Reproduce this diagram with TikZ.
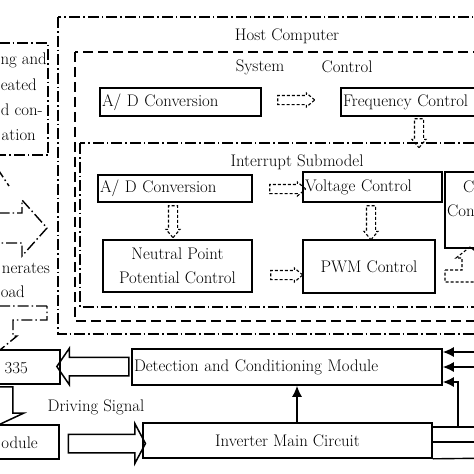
\documentclass[tikz,border=0pt]{standalone}
\usetikzlibrary{shapes.arrows,arrows.meta,calc}
\begin{document}
\begin{tikzpicture}[x=1pt,y=-1pt,
  every node/.style={font=\fontsize{16.8pt}{24pt}\selectfont, inner sep=0pt},
  box/.style={draw, line width=1.6pt, rectangle, inner xsep=2pt},
  dashdot/.style={line width=1.4pt, dash pattern=on 11pt off 3pt on 1.5pt off 3pt},
  dashbox/.style={line width=1.6pt, dash pattern=on 10pt off 5pt},
  smalldash/.style={line width=1.1pt, dash pattern=on 3pt off 2pt},
  harrow/.style={single arrow, draw, smalldash, inner sep=4pt, minimum width=13pt,
    single arrow head extend=2.5pt, single arrow tip angle=80, minimum height=#1},
  bigarrow/.style={single arrow, draw, line width=1.5pt, minimum height=#1},
  conn/.style={line width=1.4pt, -{Latex[length=11pt,width=10pt]}},
  wire/.style={line width=1.4pt}
]
\useasboundingbox (0,0) rectangle (474,474);
\clip (0,0) rectangle (474,474);

% containers
\draw[dashdot] (58,17) rectangle (640,334);
\draw[dashbox] (75,52) rectangle (640,321);
\draw[dashdot] (80,143) rectangle (640,307);

\node (hostlbl) at (287,36) {Host Computer};
\node (syslbl) at (260,67) {System};
\node (ctllbl) at (347,67) {Control};
\node (intlbl) at (297,162) {Interrupt Submodel};

% system control boxes
\node[box, minimum width=161pt, minimum height=28pt, text width=157pt, align=left] (ad1) at (180.5,102) {A/ D Conversion};
\node[box, minimum width=279pt, minimum height=28pt, text width=275pt, align=left] (freq) at (480.5,102) {Frequency Control};

% interrupt boxes
\node[box, minimum width=154pt, minimum height=27pt, text width=150pt, align=left] (ad2) at (175,188.5) {A/ D Conversion};
\node[box, minimum width=149pt, minimum height=52pt, align=center] (neutral) at (177.5,266) {Neutral Point\\Potential Control};
\node[box, minimum width=139pt, minimum height=30pt, text width=135pt, align=left] (volt) at (372.5,187) {Voltage Control};
\node[box, minimum width=132pt, minimum height=53pt] (pwm) at (369,266.5) {PWM Control};
\node[box, minimum width=155pt, minimum height=76pt] (cur) at (522.5,210) {};
\node[anchor=west] (curtxt1) at (463,186.5) {C};
\node[anchor=west] (curtxt2) at (447,210.5) {Con};

% dashed hollow arrows
\node[harrow=37pt] (a1) at (293.5,100) {};
\node[harrow=29pt, shape border rotate=270] (a2) at (419,130.5) {};
\node[harrow=32pt, shape border rotate=270] (a3) at (173,219) {};
\node[harrow=36pt] (a4) at (285,189) {};
\node[harrow=34pt, shape border rotate=270] (a5) at (371,220) {};
\node[harrow=32pt] (a6) at (284,275) {};
\draw[smalldash] (445,270) -- (462,270) -- (462,258) -- (456,258) -- (470,247)
  -- (484,258) -- (478,258) -- (478,282) -- (445,282) -- cycle;

% left side
\draw[dashdot] (-20,43) -- (48,43) -- (48,155) -- (-20,155);
\node[anchor=east] (t1) at (47,60) {ng and};
\node[anchor=east] (t2) at (37,85) {eated};
\node[anchor=east] (t3) at (43,110) {d con-};
\node[anchor=east] (t4) at (36,135) {ation};
\draw[dashdot] (-3,168) -- (9,186);
\draw[dashdot] (-20,213) -- (22,213) -- (22,200) -- (47,228) -- (22,256) -- (22,243) -- (-20,243);
\node[anchor=east] (t5) at (50,268) {nerates};
\node[anchor=east] (t6) at (25,292) {oad};
\draw[dashdot] (47,306) -- (-13,306) -- (-13,336) -- (-17,336) -- (0,350) -- (17,336)
  -- (13,336) -- (13,320) -- (47,320) -- cycle;

% bottom
\node[box, minimum width=200pt, minimum height=34pt] (dsp) at (-40,367) {};
\node[anchor=east] (dsptxt) at (28,368) {335};
\node[box, minimum width=310pt, minimum height=36pt, text width=306pt, align=left] (det) at (287,367) {Detection and Conditioning Module};
\node[box, minimum width=199pt, minimum height=34pt] (mod) at (-40.5,442) {};
\node[anchor=east] (modtxt) at (38,443) {odule};
\node[box, minimum width=289pt, minimum height=35pt] (inv) at (287.5,440.5) {Inverter Main Circuit};
\node (drv) at (96,407) {Driving Signal};

\node[bigarrow=72pt, inner sep=8.5pt, minimum width=35pt, single arrow head extend=9pt, single arrow tip angle=111, shape border rotate=180] (b1) at (96,366.5) {};
\node[bigarrow=77pt, inner sep=8.5pt, minimum width=38pt, single arrow head extend=10.5pt, single arrow tip angle=124] (b2) at (104.5,443.5) {};
\node[bigarrow=37pt, inner sep=15pt, minimum width=52pt, single arrow head extend=11pt, single arrow tip angle=130, shape border rotate=270] (b3) at (-3,402.5) {};

\coordinate (r1) at (500,352);
\coordinate (r2) at (500,367);
\coordinate (j) at (458,427);
\coordinate (j2) at (458,382);
\coordinate (vx) at (297,0);
\draw[conn] (r1) -- (det.east |- r1);
\draw[conn] (r2) -- (det.east |- r2);
\draw[wire] (inv.east |- j) -- (500,427);
\draw[conn] (j) -- (j2) -- (det.east |- j2);
\draw[wire] (inv.east) ++(0,1.5) -- (500,442);
\draw[wire] (inv.south east) -- (500,458);
\draw[conn] (inv.north -| vx) -- (det.south -| vx);
\end{tikzpicture}
\end{document}
